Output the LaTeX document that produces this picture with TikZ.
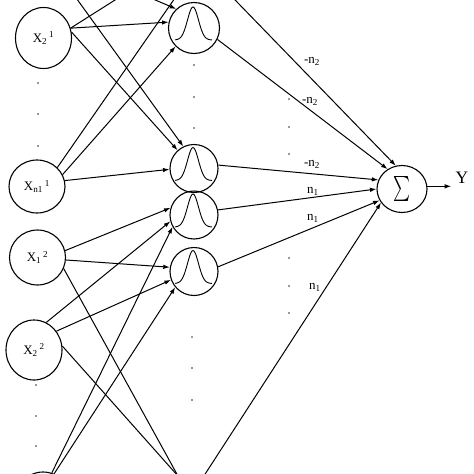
\documentclass[tikz,border=0pt]{standalone}
\usepackage{fontspec}
\setmainfont{Liberation Serif}
\usepackage{graphicx}
\usetikzlibrary{arrows.meta,shapes.geometric,calc}
\newcommand\gausscurve[1]{\draw[line width=0.9pt,shift={(#1)}] plot[smooth,domain=-19:18,samples=38] (\x,{12-33*exp(-((\x+1)^2)/60.5)});}
\begin{document}
\begin{tikzpicture}[x=1pt,y=-1pt,
  line width=1pt,
  inp/.style={ellipse,draw,line width=1.1pt,inner sep=0pt,minimum width=56pt,font=\fontsize{13}{15}\selectfont},
  hid/.style={circle,draw,line width=1.1pt,inner sep=0pt,minimum size=48pt},
  sumnode/.style={ellipse,draw,line width=1.1pt,inner sep=0pt,minimum width=50pt,minimum height=47pt},
  wlab/.style={font=\fontsize{13}{15}\selectfont,inner sep=0pt},
  conn/.style={-{Latex[length=6.5pt,width=4.5pt]}},
]
\useasboundingbox (0,0) rectangle (474,474);
\clip (0,0) rectangle (474,474);

% input nodes (X11 and Xn2 lie beyond the picture's edges)
\node[inp,minimum height=56pt] (X11) at (43,-48) {};
\node[inp,minimum height=61pt] (X21) at (43.5,38) {X\textsubscript{2}\hspace{2pt}\textsuperscript{1}};
\node[inp,minimum height=53pt] (Xn1) at (37,186.5) {X\textsubscript{n1}\hspace{2pt}\textsuperscript{1}};
\node[inp,minimum height=55pt] (X12) at (37.5,257.5) {X\textsubscript{1}\hspace{2pt}\textsuperscript{2}};
\node[inp,minimum height=60pt] (X22) at (34,350) {X\textsubscript{2}\hspace{2pt}\textsuperscript{2}};
\node[inp,minimum height=56pt] (Xn2) at (43,500) {};

% hidden nodes
\node[hid] (H0) at (194,-27) {};
\node[hid,minimum size=51pt] (H1) at (194,28) {};
\node[hid] (H2) at (194,168.5) {};
\node[hid] (H3) at (194,215) {};
\node[hid] (H4) at (194,271.5) {};
\node[hid] (H5) at (196,505) {};
\foreach \h in {H1,H2,H3,H4} {\gausscurve{\h}}

% output
\node[sumnode] (S) at (402,189) {\resizebox*{17pt}{25pt}{$\sum$}};
\node[font=\fontsize{17.5}{20}\selectfont,inner sep=0pt] (Y) at (462,178) {Y};
\coordinate (yend) at ($(Y.west |- S.6)+(-4,0)$);
\draw[conn] (S.6) -- (yend);

% input -> hidden
\draw[conn] (X11) -- (H1.133);
\draw[conn] (X11) -- (H2.116);
\draw[conn] (X21.20) -- (H0.160);
\draw[conn] (X21.20) -- (H1.167);
\draw[conn] (X21.12) -- (H2.132);
\draw[conn] (Xn1.43) -- (H0.232);
\draw[conn] (Xn1.25) -- (H1.225);
\draw[conn] (Xn1.12) -- (H2.182);
\draw[conn] (X12.14) -- (H3.163);
\draw[conn] (X12.-5) -- (H4.170);
\draw[conn] (X12.-23) -- (H5.123);
\draw[conn] (X22.66) -- (H3.195);
\draw[conn] (X22.40) -- (H4.200);
\draw[conn] (X22.8) -- (H5.118);
\draw[conn] (Xn2.72) -- (H3.209);
\draw[conn] (Xn2.67) -- (H4.220);

% hidden -> sum
\draw[conn] (H0.-20) -- (S.105);
\draw[conn] (H1.-26) -- (S.126);
\draw[conn] (H2.8) -- (S.159);
\draw[conn] (H3.12) -- (S.180);
\draw[conn] (H4.11) -- (S.207);
\draw[conn] (H5.79) -- (S.213);

% weights
\node[wlab] (w1) at (312,61) {-n\textsubscript{2}};
\node[wlab] (w2) at (310,101) {-n\textsubscript{2}};
\node[wlab] (w3) at (312,164) {-n\textsubscript{2}};
\node[wlab] (w4) at (313,191) {n\textsubscript{1}};
\node[wlab] (w5) at (313,218) {n\textsubscript{1}};
\node[wlab] (w6) at (315,287) {n\textsubscript{1}};

% ellipsis dots
\foreach \p in {(38,83),(38,114),(38,146),(36,385),(36,416),(36,446),
  (194,65),(194,97),(194,128),(192,337),(192,368),(192,400),
  (289,99),(289,127),(289,154),(289,258),(289,286),(289,313)}
  {\fill[black!80] \p circle (0.9pt);}
\end{tikzpicture}
\end{document}
